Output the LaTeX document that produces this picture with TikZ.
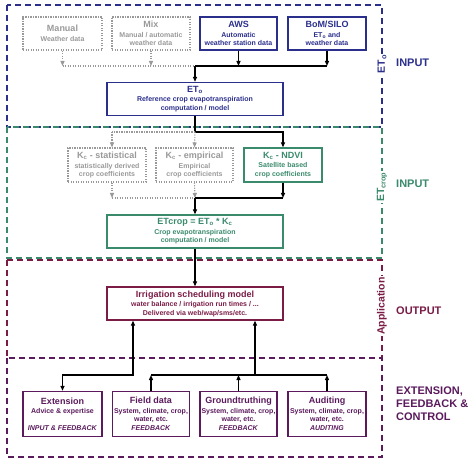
\documentclass[tikz,border=0pt]{standalone}
\usepackage{fontspec}
\setmainfont{Liberation Sans}
\usetikzlibrary{arrows.meta}
\definecolor{cblue}{HTML}{2B2F8C}
\definecolor{cgreen}{HTML}{3A8A6C}
\definecolor{cmaroon}{HTML}{7A1C46}
\definecolor{cpurple}{HTML}{5A1A5C}
\definecolor{cgray}{HTML}{999999}
\newcommand\zTitle{\fontsize{9}{10}\selectfont\bfseries}
\newcommand\zSub{\fontsize{7}{8.5}\selectfont\bfseries}
\newcommand\zSide{\fontsize{11}{13}\selectfont\bfseries}
\begin{document}
\begin{tikzpicture}[x=1pt,y=-1pt,
  region/.style={line width=1.5pt, dash pattern=on 6pt off 4pt},
  sbox/.style={draw, line width=1.3pt, align=center, inner sep=1pt, font=\zSub, minimum height=33pt},
  gbox/.style={draw=cgray, dash pattern=on 1.2pt off 1.3pt, line width=1.1pt, text=cgray, align=center, inner sep=1pt, font=\zSub, minimum height=33pt},
  barr/.style={line width=1.2pt, -{Triangle[length=5pt,width=4pt]}},
  bline/.style={line width=1.2pt},
  garr/.style={cgray, dash pattern=on 1.2pt off 1.3pt, line width=1.1pt, -{Triangle[length=5pt,width=4pt]}},
  gline/.style={cgray, dash pattern=on 1.2pt off 1.3pt, line width=1.1pt},
  sidelab/.style={rotate=90, fill=white, inner sep=1pt, font=\fontsize{10.5}{12}\selectfont\bfseries},
  rlab/.style={anchor=west, align=left, inner sep=0pt, font=\zSide}
]
\useasboundingbox (0,0) rectangle (474,465);

% regions
\draw[region, cblue] (7,5) rectangle (382,127);
\draw[region, cgreen] (7,127) rectangle (382,258);
\draw[region, cmaroon] (7,260) rectangle (382,358);
\draw[region, cpurple] (7,358) rectangle (382,457);

\node[sidelab, text=cblue] (l1) at (382,64) {ET\textsubscript{o}};
\node[sidelab, text=cgreen] (l2) at (382,187) {ET\textsubscript{crop}};
\node[sidelab, text=cmaroon] (l3) at (382,306) {Application};
\node[rlab, text=cblue] (r1) at (396,63) {INPUT};
\node[rlab, text=cgreen] (r2) at (396,184) {INPUT};
\node[rlab, text=cmaroon] (r3) at (396,311) {OUTPUT};
\node[rlab, text=cpurple] (r4) at (396,404) {EXTENSION,\\FEEDBACK \&\\CONTROL};

% row 1
\node[gbox, minimum width=79pt] (manual) at (62.5,33.5) {{\zTitle Manual}\\[1pt]Weather data};
\node[gbox, minimum width=78pt] (mix) at (151,33.5) {{\zTitle Mix}\\[1pt]Manual / automatic\\weather data};
\node[sbox, draw=cblue, text=cblue, minimum width=77pt] (aws) at (238.5,33.5) {{\zTitle AWS}\\[1pt]Automatic\\weather station data};
\node[sbox, draw=cblue, text=cblue, minimum width=78pt] (bom) at (327,33.5) {{\zTitle BoM/SILO}\\[1pt]ET\textsubscript{o} and\\weather data};

% ETo
\node[sbox, draw=cblue, text=cblue, minimum width=176pt] (eto) at (195,99) {{\zTitle ET\textsubscript{o}}\\[1pt]Reference crop evapotranspiration\\computation / model};

% Kc row
\node[gbox, minimum width=78pt, minimum height=34pt] (stat) at (107,165) {{\zTitle K\textsubscript{c} - statistical}\\[1pt]statistically derived\\crop coefficients};
\node[gbox, minimum width=77pt, minimum height=34pt] (emp) at (194.5,165) {{\zTitle K\textsubscript{c} - empirical}\\[1pt]Empirical\\crop coefficients};
\node[sbox, draw=cgreen, text=cgreen, minimum width=78pt, minimum height=34pt] (ndvi) at (283,165) {{\zTitle K\textsubscript{c} - NDVI}\\[1pt]Satellite based\\crop coefficients};

% ETcrop
\node[sbox, draw=cgreen, text=cgreen, minimum width=176pt] (etcrop) at (195,231.5) {{\zTitle ETcrop = ET\textsubscript{o} * K\textsubscript{c}}\\[1pt]Crop evapotranspiration\\computation / model};

% Irrigation
\node[sbox, draw=cmaroon, text=cmaroon, minimum width=176pt] (irr) at (195,303.5) {{\zTitle Irrigation scheduling model}\\[1pt]water balance / irrigation run times / ...\\Delivered via web/wap/sms/etc.};

% bottom row
\node[sbox, draw=cpurple, text=cpurple, minimum width=79pt, minimum height=45pt] (ext) at (62.5,414) {{\zTitle Extension}\\[1pt]Advice \& expertise\\[8pt]\textit{INPUT \& FEEDBACK}};
\node[sbox, draw=cpurple, text=cpurple, minimum width=77pt, minimum height=45pt] (field) at (151,414) {{\zTitle Field data}\\[1pt]System, climate, crop,\\water, etc.\\\textit{FEEDBACK}};
\node[sbox, draw=cpurple, text=cpurple, minimum width=77pt, minimum height=45pt] (ground) at (238.5,414) {{\zTitle Groundtruthing}\\[1pt]System, climate, crop,\\water, etc.\\\textit{FEEDBACK}};
\node[sbox, draw=cpurple, text=cpurple, minimum width=78pt, minimum height=45pt] (audit) at (327,414) {{\zTitle Auditing}\\[1pt]System, climate, crop,\\water, etc.\\\textit{AUDITING}};

% junction coordinates
\coordinate (j1) at (195,66);
\coordinate (j2) at (195,132);
\coordinate (j3) at (195,198);
\coordinate (j4) at (255,375);
\coordinate (sx) at (112,0);
\coordinate (ex) at (133,375);

% top connectors
\draw[garr] (manual.south) -- (manual.south |- j1);
\draw[garr] (mix.south) -- (mix.south |- j1);
\draw[gline] (manual.south |- j1) -- (j1);
\draw[barr] (aws.south) -- (aws.south |- j1);
\draw[barr] (bom.south) -- (bom.south |- j1);
\draw[bline] (j1) -- (bom.south |- j1);
\draw[barr] (j1) -- (eto.north);

% middle connectors
\draw[bline] (eto.south) -- (j2);
\draw[barr] (j2) -| (ndvi.north);
\draw[gline] (j2) -- (sx |- j2);
\draw[garr] (sx |- j2) -- (sx |- stat.north);
\draw[garr] (j2) -- (emp.north);
\draw[garr] (sx |- stat.south) -- (sx |- j3);
\draw[gline] (sx |- j3) -- (j3);
\draw[garr] (emp.south) -- (j3);
\draw[barr] (ndvi.south) -- (ndvi.south |- j3);
\draw[bline] (ndvi.south |- j3) -- (j3);
\draw[barr] (j3) -- (etcrop.north);

% lower connectors
\draw[barr] (etcrop.south) -- (irr.north);
\draw[line width=1.2pt, {Triangle[length=5pt,width=4pt]}-{Triangle[length=5pt,width=4pt]}] (ex |- irr.south) -- (ex) -| (ext.north);
\draw[barr] (field.north) -- (field.north |- j4);
\draw[barr] (ground.north) -- (ground.north |- j4);
\draw[barr] (audit.north) -- (audit.north |- j4);
\draw[bline] (field.north |- j4) -- (audit.north |- j4);
\draw[barr] (j4) -- (j4 |- irr.south);
\end{tikzpicture}
\end{document}
